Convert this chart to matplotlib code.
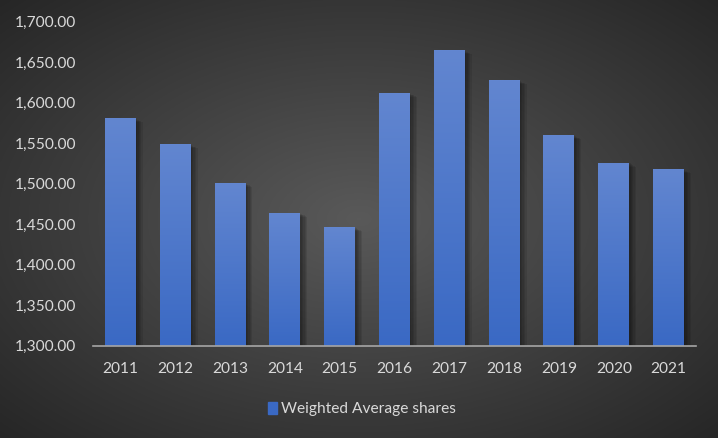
import matplotlib.pyplot as plt
import matplotlib.patheffects as pe
from matplotlib.ticker import FuncFormatter
import numpy as np

years = ['2011', '2012', '2013', '2014', '2015', '2016', '2017', '2018', '2019', '2020', '2021']
shares = [1581, 1549, 1501, 1464, 1446.5, 1612, 1665, 1628, 1560, 1526, 1518]
series_name = 'Weighted Average shares'

txt = '#d9d9d9'
top_col = np.array([98, 134, 208]) / 255
bot_col = np.array([58, 105, 196]) / 255

plt.rcParams['font.family'] = ['Lato', 'DejaVu Sans']

fig = plt.figure(figsize=(7.18, 4.38), dpi=100)

# radial background, lighter in the middle
bg = fig.add_axes([0, 0, 1, 1])
yy, xx = np.mgrid[-1:1:300j, -1:1:500j]
r = np.sqrt(xx**2 + yy**2) / np.sqrt(2)
shade = 0.35 - 0.2 * r
bg.imshow(np.dstack([shade] * 3), aspect='auto', extent=[0, 1, 0, 1])
bg.axis('off')

# soft shadow: a few faint offset copies
soft = [pe.SimplePatchShadow(offset=(k, -0.6 * k), shadow_rgbFace='black', alpha=0.09)
        for k in (1, 2, 3, 4, 5)]

ax = fig.add_axes([93 / 718, 1 - 345.7 / 438, (696 - 93) / 718, (345.7 - 21.7) / 438])
ax.set_facecolor('none')
x = np.arange(len(years))
bars = ax.bar(x, shares, width=0.565, bottom=0, color=bot_col,
              path_effects=soft + [pe.Normal()])

grad = np.linspace(0, 1, 100)[:, None, None]
img = top_col * (1 - grad) + bot_col * grad
for b in bars:
    x0 = b.get_x()
    w = b.get_width()
    h = b.get_height()
    im = ax.imshow(img, aspect='auto', extent=[x0, x0 + w, 1300, h], zorder=3)
    im.set_clip_path(b)

ax.set_xlim(-0.5, len(years) - 0.5)
ax.set_ylim(1300, 1700)
ax.set_yticks(np.arange(1300, 1701, 50))
ax.yaxis.set_major_formatter(FuncFormatter(lambda v, p: f'{v:,.2f}'))
ax.set_xticks(x)
ax.set_xticklabels(years)
ax.tick_params(colors=txt, labelsize=11.2, length=0)
ax.tick_params(axis='y', pad=12)
ax.tick_params(axis='x', pad=12)
for s in ['top', 'right', 'left']:
    ax.spines[s].set_visible(False)
ax.spines['bottom'].set_color('#a6a6a6')
ax.spines['bottom'].set_linewidth(1.2)
ax.spines['bottom'].set_zorder(5)

handle = plt.Rectangle((0, 0), 1, 1, color=bot_col)
fig.legend([handle], [series_name], loc='center', bbox_to_anchor=(362 / 718, 1 - 409 / 438),
           frameon=False, labelcolor=txt, fontsize=11.2, handlelength=0.55, handleheight=0.8,
           handletextpad=0.3)

fig.savefig('out.png', dpi=100)
